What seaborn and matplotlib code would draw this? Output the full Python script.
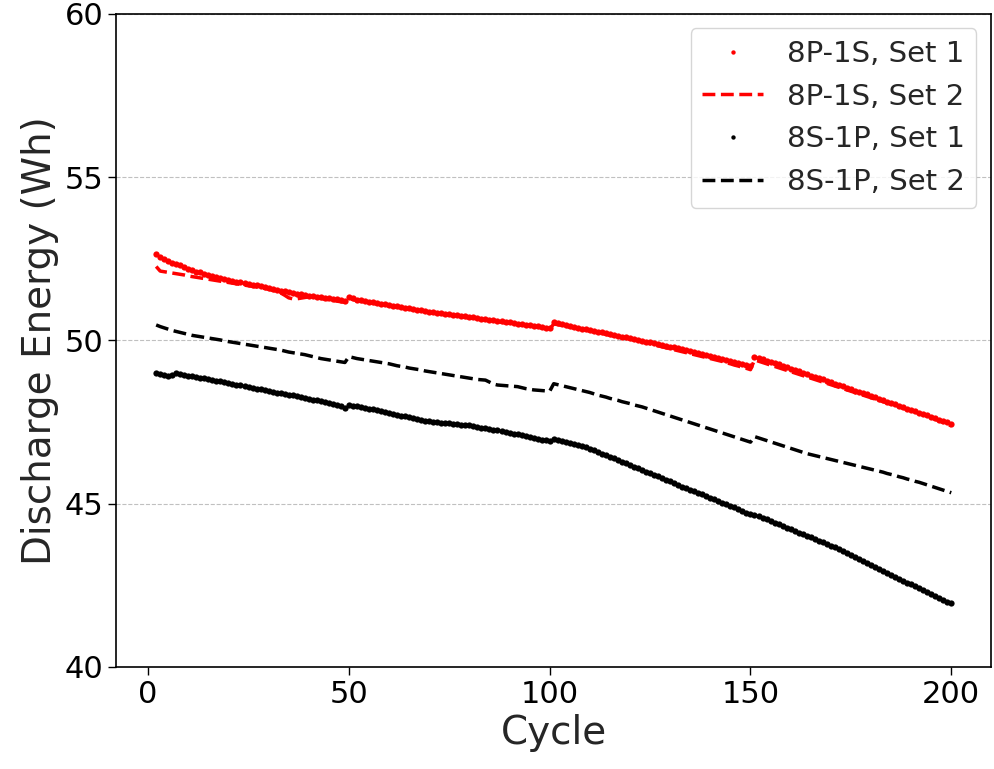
import matplotlib
matplotlib.use("Agg")
import matplotlib.pyplot as plt
import seaborn as sns

cycles = list(range(2, 201))

p8s1_set1 = [
    52.65, 52.56, 52.48, 52.44, 52.38, 52.33, 52.30, 52.24, 52.18, 52.15,
    52.10, 52.08, 52.03, 52.00, 51.98, 51.94, 51.91, 51.89, 51.85, 51.83,
    51.80, 51.78, 51.75, 51.72, 51.70, 51.68, 51.65, 51.63, 51.60, 51.58,
    51.55, 51.52, 51.50, 51.47, 51.45, 51.43, 51.41, 51.39, 51.37, 51.36,
    51.34, 51.32, 51.30, 51.28, 51.27, 51.25, 51.23, 51.20, 51.32, 51.28,
    51.24, 51.22, 51.20, 51.18, 51.16, 51.14, 51.12, 51.10, 51.08, 51.06,
    51.04, 51.02, 51.00, 50.98, 50.96, 50.94, 50.92, 50.90, 50.88, 50.86,
    50.85, 50.83, 50.81, 50.80, 50.78, 50.76, 50.75, 50.73, 50.71, 50.70,
    50.68, 50.66, 50.65, 50.63, 50.61, 50.60, 50.58, 50.56, 50.55, 50.53,
    50.51, 50.50, 50.48, 50.46, 50.45, 50.43, 50.41, 50.39, 50.37, 50.55,
    50.52, 50.49, 50.46, 50.43, 50.41, 50.38, 50.36, 50.34, 50.31, 50.29,
    50.26, 50.24, 50.21, 50.18, 50.16, 50.14, 50.11, 50.09, 50.06, 50.04,
    50.01, 49.99, 49.96, 49.94, 49.91, 49.88, 49.86, 49.83, 49.80, 49.78,
    49.75, 49.72, 49.69, 49.66, 49.63, 49.60, 49.57, 49.54, 49.51, 49.48,
    49.45, 49.42, 49.39, 49.36, 49.33, 49.30, 49.27, 49.24, 49.20, 49.50,
    49.46, 49.42, 49.38, 49.34, 49.30, 49.26, 49.22, 49.18, 49.13, 49.09,
    49.05, 49.01, 48.97, 48.92, 48.88, 48.84, 48.80, 48.76, 48.71, 48.67,
    48.63, 48.59, 48.55, 48.50, 48.46, 48.42, 48.38, 48.34, 48.29, 48.25,
    48.21, 48.17, 48.12, 48.08, 48.04, 48.00, 47.95, 47.91, 47.87, 47.83,
    47.78, 47.74, 47.70, 47.66, 47.61, 47.57, 47.53, 47.49, 47.45,
]

p8s1_set2 = [
    52.26, 52.12, 52.10, 52.08, 52.06, 52.04, 52.02, 52.00, 51.97, 51.95,
    51.93, 51.91, 51.89, 51.87, 51.85, 51.83, 51.81, 51.79, 51.77, 51.75,
    51.73, 51.71, 51.69, 51.67, 51.65, 51.63, 51.61, 51.59, 51.56, 51.53,
    51.50, 51.45, 51.38, 51.30, 51.27, 51.27, 51.29, 51.31, 51.33, 51.32,
    51.30, 51.28, 51.26, 51.24, 51.22, 51.20, 51.18, 51.16, 51.27, 51.25,
    51.21, 51.19, 51.17, 51.15, 51.13, 51.11, 51.09, 51.07, 51.05, 51.03,
    51.01, 50.99, 50.97, 50.95, 50.93, 50.91, 50.89, 50.87, 50.85, 50.83,
    50.82, 50.80, 50.78, 50.77, 50.75, 50.73, 50.72, 50.70, 50.68, 50.67,
    50.65, 50.63, 50.62, 50.60, 50.58, 50.57, 50.55, 50.53, 50.52, 50.50,
    50.48, 50.47, 50.45, 50.43, 50.42, 50.40, 50.38, 50.36, 50.34, 50.50,
    50.48, 50.45, 50.43, 50.40, 50.38, 50.35, 50.33, 50.31, 50.28, 50.26,
    50.23, 50.21, 50.18, 50.15, 50.13, 50.11, 50.08, 50.06, 50.03, 50.01,
    49.98, 49.95, 49.92, 49.89, 49.86, 49.83, 49.80, 49.77, 49.74, 49.71,
    49.68, 49.65, 49.62, 49.59, 49.56, 49.53, 49.50, 49.47, 49.44, 49.41,
    49.38, 49.35, 49.31, 49.28, 49.24, 49.21, 49.17, 49.14, 49.10, 49.40,
    49.36, 49.32, 49.28, 49.24, 49.20, 49.16, 49.12, 49.08, 49.04, 49.00,
    48.96, 48.92, 48.88, 48.84, 48.80, 48.76, 48.72, 48.68, 48.64, 48.60,
    48.56, 48.52, 48.48, 48.44, 48.40, 48.36, 48.32, 48.28, 48.24, 48.20,
    48.16, 48.12, 48.08, 48.04, 48.00, 47.96, 47.92, 47.88, 47.84, 47.80,
    47.76, 47.72, 47.68, 47.63, 47.58, 47.53, 47.48, 47.43, 47.38,
]

s8p1_set1 = [
    49.01, 48.98, 48.95, 48.92, 48.95, 49.00, 48.97, 48.94, 48.92, 48.90,
    48.88, 48.85, 48.83, 48.81, 48.79, 48.76, 48.74, 48.71, 48.69, 48.67,
    48.64, 48.62, 48.59, 48.57, 48.55, 48.52, 48.50, 48.47, 48.45, 48.42,
    48.40, 48.37, 48.35, 48.33, 48.31, 48.28, 48.26, 48.23, 48.21, 48.18,
    48.16, 48.13, 48.11, 48.08, 48.05, 48.02, 47.98, 47.93, 48.02, 48.00,
    47.98, 47.95, 47.93, 47.90, 47.88, 47.85, 47.83, 47.80, 47.78, 47.75,
    47.72, 47.69, 47.67, 47.64, 47.62, 47.59, 47.57, 47.54, 47.52, 47.51,
    47.50, 47.48, 47.47, 47.46, 47.45, 47.44, 47.42, 47.41, 47.39, 47.37,
    47.35, 47.32, 47.30, 47.28, 47.26, 47.24, 47.22, 47.19, 47.16, 47.14,
    47.12, 47.09, 47.07, 47.04, 47.01, 46.98, 46.96, 46.93, 46.90, 46.98,
    46.95, 46.92, 46.89, 46.86, 46.83, 46.80, 46.76, 46.72, 46.68, 46.63,
    46.58, 46.53, 46.48, 46.43, 46.38, 46.33, 46.28, 46.23, 46.18, 46.13,
    46.08, 46.03, 45.98, 45.93, 45.88, 45.83, 45.78, 45.73, 45.68, 45.63,
    45.58, 45.52, 45.47, 45.42, 45.37, 45.33, 45.28, 45.23, 45.18, 45.13,
    45.08, 45.03, 44.98, 44.93, 44.88, 44.82, 44.77, 44.72, 44.67, 44.66,
    44.61, 44.56, 44.51, 44.46, 44.41, 44.36, 44.31, 44.26, 44.21, 44.16,
    44.11, 44.06, 44.01, 43.96, 43.91, 43.86, 43.81, 43.76, 43.71, 43.66,
    43.60, 43.54, 43.48, 43.42, 43.36, 43.30, 43.24, 43.18, 43.12, 43.06,
    43.00, 42.94, 42.88, 42.82, 42.76, 42.70, 42.64, 42.58, 42.52, 42.46,
    42.40, 42.34, 42.28, 42.22, 42.16, 42.10, 42.04, 41.99, 41.95,
]

s8p1_set2 = [
    50.47, 50.42, 50.38, 50.34, 50.30, 50.27, 50.24, 50.21, 50.18, 50.15,
    50.13, 50.11, 50.09, 50.07, 50.05, 50.03, 50.01, 49.98, 49.96, 49.94,
    49.92, 49.90, 49.88, 49.86, 49.84, 49.82, 49.80, 49.78, 49.76, 49.74,
    49.72, 49.70, 49.67, 49.64, 49.62, 49.60, 49.58, 49.56, 49.53, 49.50,
    49.47, 49.44, 49.42, 49.40, 49.38, 49.36, 49.34, 49.32, 49.50, 49.47,
    49.44, 49.42, 49.40, 49.38, 49.36, 49.34, 49.32, 49.30, 49.28, 49.25,
    49.22, 49.20, 49.18, 49.15, 49.13, 49.11, 49.09, 49.06, 49.04, 49.02,
    49.00, 48.98, 48.96, 48.94, 48.92, 48.90, 48.88, 48.86, 48.84, 48.82,
    48.80, 48.79, 48.78, 48.72, 48.66, 48.63, 48.62, 48.61, 48.60, 48.59,
    48.58, 48.55, 48.52, 48.50, 48.48, 48.47, 48.46, 48.45, 48.44, 48.67,
    48.64, 48.61, 48.58, 48.55, 48.52, 48.49, 48.46, 48.43, 48.40, 48.36,
    48.32, 48.29, 48.26, 48.22, 48.19, 48.16, 48.12, 48.09, 48.06, 48.02,
    47.99, 47.96, 47.92, 47.88, 47.84, 47.80, 47.76, 47.72, 47.68, 47.64,
    47.60, 47.56, 47.52, 47.48, 47.44, 47.40, 47.36, 47.32, 47.28, 47.24,
    47.20, 47.16, 47.12, 47.08, 47.04, 47.00, 46.96, 46.92, 46.88, 47.05,
    47.01, 46.97, 46.93, 46.89, 46.85, 46.81, 46.77, 46.73, 46.69, 46.65,
    46.61, 46.57, 46.53, 46.50, 46.47, 46.44, 46.41, 46.38, 46.35, 46.32,
    46.29, 46.26, 46.23, 46.20, 46.17, 46.14, 46.11, 46.08, 46.05, 46.02,
    45.99, 45.96, 45.92, 45.89, 45.86, 45.82, 45.79, 45.75, 45.72, 45.68,
    45.65, 45.61, 45.57, 45.53, 45.49, 45.45, 45.41, 45.37, 45.33,
]

sns.set_style("ticks")
plt.rcParams['font.family'] = ['DejaVu Sans']

fig, ax = plt.subplots(figsize=(9.95, 7.69), dpi=100)
fig.subplots_adjust(left=0.117, right=0.996, bottom=0.133, top=0.982)

dots = dict(linestyle='none', marker='.', markersize=9, markeredgewidth=0)
dash = dict(linestyle='--', linewidth=2.5)

sns.lineplot(x=cycles, y=p8s1_set1, color='red', label='8P-1S, Set 1', ax=ax, **dots)
sns.lineplot(x=cycles, y=p8s1_set2, color='red', label='8P-1S, Set 2', ax=ax, **dash)
sns.lineplot(x=cycles, y=s8p1_set1, color='black', label='8S-1P, Set 1', ax=ax, **dots)
sns.lineplot(x=cycles, y=s8p1_set2, color='black', label='8S-1P, Set 2', ax=ax, **dash)

ax.set_ylim(40, 60)
ax.set_yticks([40, 45, 50, 55, 60])
ax.set_xticks([0, 50, 100, 150, 200])
ax.set_xlabel('Cycle', fontsize=28)
ax.set_ylabel('Discharge Energy (Wh)', fontsize=28)
ax.tick_params(labelsize=22, length=6, width=1, colors='black')
for s in ax.spines.values():
    s.set_color('black')
    s.set_linewidth(1.2)

ax.grid(axis='y', linestyle='--', linewidth=0.8, color='#c0c0c0')
ax.legend(loc='upper right', fontsize=21, handlelength=2.1, markerscale=0.7)

fig.savefig('out.png', dpi=100)
